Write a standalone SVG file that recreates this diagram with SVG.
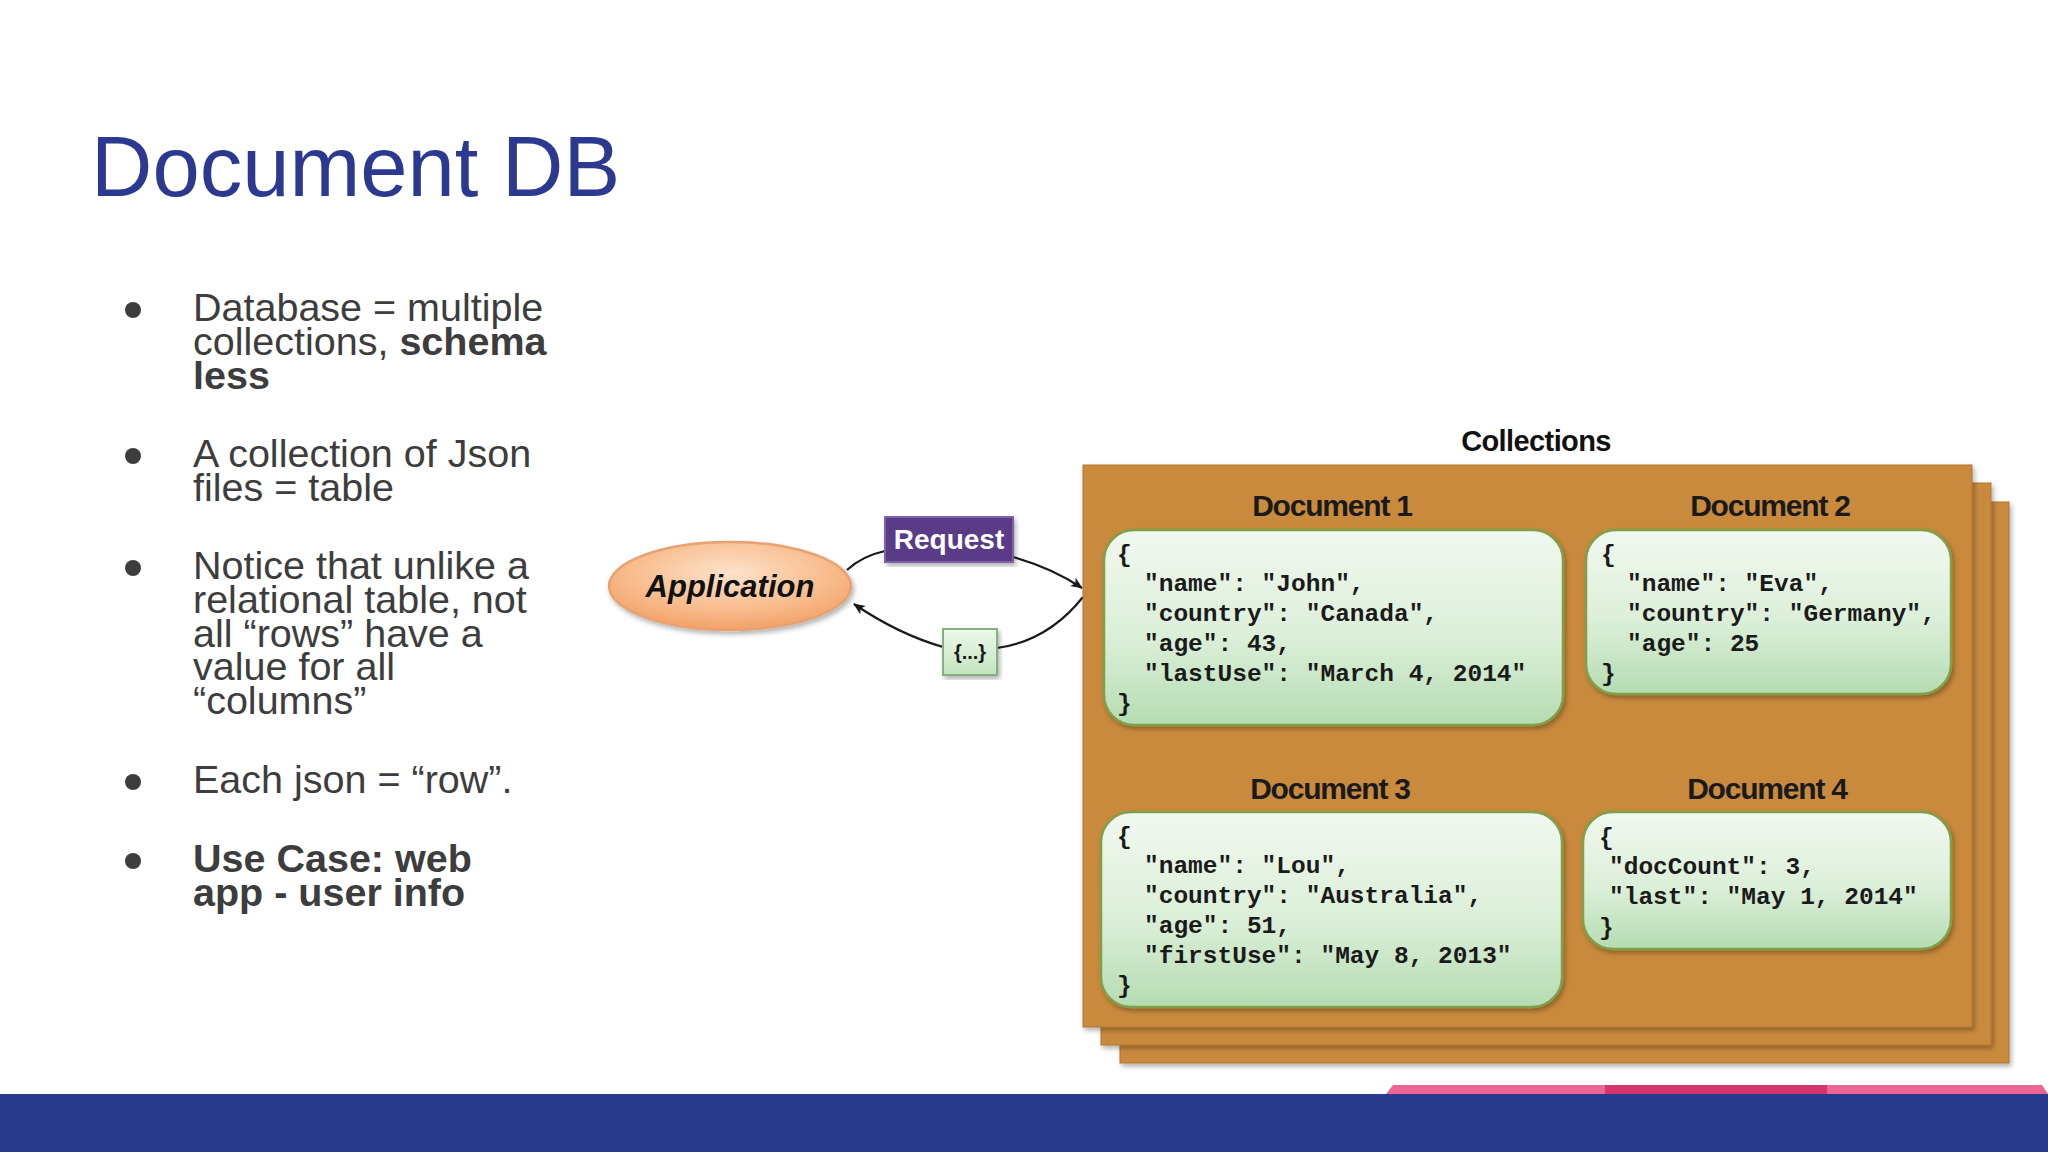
<svg xmlns="http://www.w3.org/2000/svg" width="2048" height="1152" viewBox="0 0 2048 1152">
  <style>
    .title { font-family: "Liberation Sans", Arial, sans-serif; font-size: 85px; fill: #2b3990; }
    .bul { font-family: "Liberation Sans", Arial, sans-serif; font-size: 39.5px; fill: #3d3d3d; }
    .b { font-weight: bold; }
    .dot { fill: #3d3d3d; }
    .doclabel { font-family: "Liberation Sans", Arial, sans-serif; font-size: 30px; font-weight: bold; fill: #1a1a1a; text-anchor: middle; letter-spacing: -1.2px; }
    .json { font-family: "Liberation Mono", "Courier New", monospace; font-size: 24.5px; font-weight: bold; fill: #1a1a1a; }
    .docbox { fill: url(#gGreen); stroke: #7f9f4a; stroke-width: 2.5; filter: url(#shadow); }
    .layer { fill: #c98a3d; stroke: #b37530; stroke-width: 1; filter: url(#shadow); }
    .conn { fill: none; stroke: #1a1a1a; stroke-width: 2.2; }
  </style>
  <defs>
    <linearGradient id="gGreen" x1="0" y1="0" x2="0" y2="1">
      <stop offset="0" stop-color="#f1f8f0"/>
      <stop offset="0.55" stop-color="#dcefd9"/>
      <stop offset="1" stop-color="#b5dcb2"/>
    </linearGradient>
    <radialGradient id="gApp" cx="0.5" cy="0.35" r="0.7">
      <stop offset="0" stop-color="#fde3cc"/>
      <stop offset="0.6" stop-color="#f8bb8c"/>
      <stop offset="1" stop-color="#f19c60"/>
    </radialGradient>
    <linearGradient id="gSmall" x1="0" y1="0" x2="0" y2="1">
      <stop offset="0" stop-color="#eef8ec"/>
      <stop offset="1" stop-color="#c3e4bf"/>
    </linearGradient>
    <filter id="shadow" x="-5%" y="-5%" width="115%" height="115%">
      <feDropShadow dx="2" dy="3" stdDeviation="2.5" flood-color="#000" flood-opacity="0.3"/>
    </filter>
    <marker id="arrow" viewBox="0 0 12 10" refX="11" refY="5" markerWidth="12" markerHeight="10" markerUnits="userSpaceOnUse" orient="auto">
      <path d="M0,0 L12,5 L0,10 L3,5 Z" fill="#1a1a1a"/>
    </marker>
  </defs>

  <rect x="0" y="0" width="2048" height="1152" fill="#ffffff"/>

  <g id="title">
    <text class="title" x="91" y="196">Document DB</text>
  </g>

  <g id="bullets">
    <circle class="dot" cx="133" cy="310" r="8"/>
    <text class="bul" x="193" y="321">Database = multiple</text>
    <text class="bul" x="193" y="355">collections, <tspan class="b">schema</tspan></text>
    <text class="bul b" x="193" y="389">less</text>

    <circle class="dot" cx="133" cy="456" r="8"/>
    <text class="bul" x="193" y="467">A collection of Json</text>
    <text class="bul" x="193" y="501">files = table</text>

    <circle class="dot" cx="133" cy="568" r="8"/>
    <text class="bul" x="193" y="579">Notice that unlike a</text>
    <text class="bul" x="193" y="613">relational table, not</text>
    <text class="bul" x="193" y="647">all “rows” have a</text>
    <text class="bul" x="193" y="680">value for all</text>
    <text class="bul" x="193" y="714">“columns”</text>

    <circle class="dot" cx="133" cy="782" r="8"/>
    <text class="bul" x="193" y="793">Each json = “row”.</text>

    <circle class="dot" cx="133" cy="861" r="8"/>
    <text class="bul b" x="193" y="872">Use Case: web</text>
    <text class="bul b" x="193" y="906">app - user info</text>
  </g>

  <g id="connectors">
    <path class="conn" d="M 847 570 Q 862 556 885 551"/>
    <path class="conn" d="M 1013 557 Q 1052 568 1082 588" marker-end="url(#arrow)"/>
    <path class="conn" d="M 1083 597 Q 1048 641 997 648"/>
    <path class="conn" d="M 943 647 Q 898 634 854 604" marker-end="url(#arrow)"/>
  </g>

  <g id="application">
    <ellipse cx="730" cy="586" rx="121" ry="44" fill="url(#gApp)" stroke="#e6a271" stroke-width="2.5" filter="url(#shadow)"/>
    <text x="730" y="597" font-family="'Liberation Sans', Arial, sans-serif" font-size="31" font-weight="bold" font-style="italic" fill="#111" text-anchor="middle">Application</text>
  </g>

  <g id="request">
    <rect x="885" y="517" width="128" height="45" fill="#5a3a87" stroke="#7d62a6" stroke-width="2" filter="url(#shadow)"/>
    <text x="949" y="549" font-family="'Liberation Sans', Arial, sans-serif" font-size="28" font-weight="bold" fill="#ffffff" text-anchor="middle">Request</text>
  </g>

  <g id="json-token">
    <rect x="943" y="629" width="54" height="46" fill="url(#gSmall)" stroke="#86b07e" stroke-width="2" filter="url(#shadow)"/>
    <text x="970" y="659" font-family="'Liberation Sans', Arial, sans-serif" font-size="20" font-weight="bold" fill="#1a1a1a" text-anchor="middle">{...}</text>
  </g>

  <g id="collections">
    <text x="1536" y="451" font-family="'Liberation Sans', Arial, sans-serif" font-size="29" font-weight="bold" fill="#111" text-anchor="middle" letter-spacing="-0.6">Collections</text>
    <rect class="layer" x="1120" y="502" width="889" height="561"/>
    <rect class="layer" x="1101" y="483" width="890" height="562"/>
    <rect class="layer" x="1083" y="465" width="889" height="562"/>
  </g>

  <g id="document1">
    <text class="doclabel" x="1332" y="516">Document 1</text>
    <rect class="docbox" x="1104" y="530" width="459" height="195" rx="30" ry="30"/>
    <text class="json" x="1117" y="562">{</text>
    <text class="json" x="1144" y="591">"name": "John",</text>
    <text class="json" x="1144" y="621">"country": "Canada",</text>
    <text class="json" x="1144" y="651">"age": 43,</text>
    <text class="json" x="1144" y="681">"lastUse": "March 4, 2014"</text>
    <text class="json" x="1117" y="711">}</text>
  </g>

  <g id="document2">
    <text class="doclabel" x="1770" y="516">Document 2</text>
    <rect class="docbox" x="1586" y="530" width="365" height="164" rx="30" ry="30"/>
    <text class="json" x="1601" y="562">{</text>
    <text class="json" x="1627" y="591">"name": "Eva",</text>
    <text class="json" x="1627" y="621">"country": "Germany",</text>
    <text class="json" x="1627" y="651">"age": 25</text>
    <text class="json" x="1601" y="681">}</text>
  </g>

  <g id="document3">
    <text class="doclabel" x="1330" y="799">Document 3</text>
    <rect class="docbox" x="1101" y="812" width="461" height="195" rx="30" ry="30"/>
    <text class="json" x="1117" y="844">{</text>
    <text class="json" x="1144" y="873">"name": "Lou",</text>
    <text class="json" x="1144" y="903">"country": "Australia",</text>
    <text class="json" x="1144" y="933">"age": 51,</text>
    <text class="json" x="1144" y="963">"firstUse": "May 8, 2013"</text>
    <text class="json" x="1117" y="993">}</text>
  </g>

  <g id="document4">
    <text class="doclabel" x="1767" y="799">Document 4</text>
    <rect class="docbox" x="1583" y="812" width="368" height="137" rx="30" ry="30"/>
    <text class="json" x="1599" y="845">{</text>
    <text class="json" x="1609" y="874">"docCount": 3,</text>
    <text class="json" x="1609" y="904">"last": "May 1, 2014"</text>
    <text class="json" x="1599" y="935">}</text>
  </g>

  <g id="footer">
    <polygon points="1386,1094 1393,1085 2042,1085 2048,1094" fill="#ec6695"/>
    <rect x="1605" y="1085" width="222" height="9" fill="#d4346c"/>
    <rect x="0" y="1094" width="2048" height="58" fill="#2a3a8c"/>
  </g>
</svg>
